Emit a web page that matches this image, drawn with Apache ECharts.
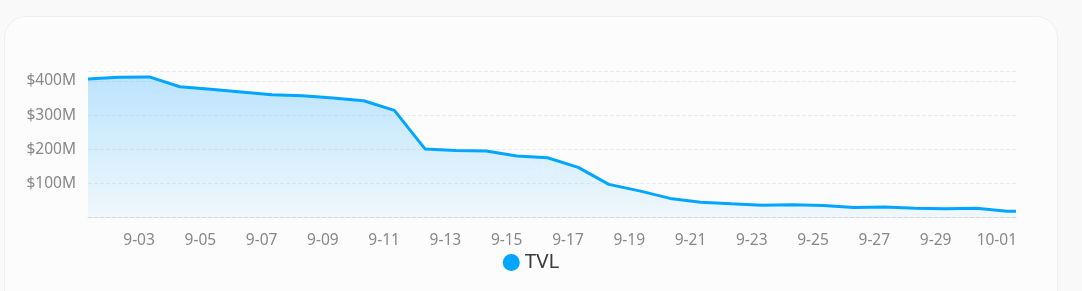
<!DOCTYPE html>
<html>
<head>
<meta charset="utf-8">
<script src="https://cdn.jsdelivr.net/npm/echarts@6/dist/echarts.min.js"></script>
<style>
  html, body { margin: 0; padding: 0; background: #f9f9f9; width: 1082px; height: 291px; overflow: hidden; }
  #card { position: absolute; left: 4px; top: 16px; width: 1054px; height: 300px; background: #fcfcfc; border: 1px solid #efefef; border-radius: 22px; box-sizing: border-box; }
  #chart { position: absolute; left: 4px; top: 16px; width: 1054px; height: 275px; }
</style>
</head>
<body>
<div id="card"></div>
<div id="chart"></div>
<script>
const dates = [
  '2023-09-01 08:00:00','2023-09-02 08:00:00','2023-09-03 08:00:00','2023-09-04 08:00:00',
  '2023-09-05 08:00:00','2023-09-06 08:00:00','2023-09-07 08:00:00','2023-09-08 08:00:00',
  '2023-09-09 08:00:00','2023-09-10 08:00:00','2023-09-11 08:00:00','2023-09-12 08:00:00',
  '2023-09-13 08:00:00','2023-09-14 08:00:00','2023-09-15 08:00:00','2023-09-16 08:00:00',
  '2023-09-17 08:00:00','2023-09-18 08:00:00','2023-09-19 08:00:00','2023-09-20 08:00:00',
  '2023-09-21 08:00:00','2023-09-22 08:00:00','2023-09-23 08:00:00','2023-09-24 08:00:00',
  '2023-09-25 08:00:00','2023-09-26 08:00:00','2023-09-27 08:00:00','2023-09-28 08:00:00',
  '2023-09-29 08:00:00','2023-09-30 08:00:00','2023-10-01 08:00:00','2023-10-01 15:00:00'
];
const tvlValues = [
  406e6, 411e6, 412e6, 383e6, 376e6, 368e6, 360e6, 357e6,
  350e6, 342e6, 314e6, 201e6, 196e6, 195e6, 180e6, 175e6,
  147e6, 97e6, 78e6, 56e6, 45e6, 40e6, 36e6, 37e6,
  35e6, 29e6, 31e6, 27e6, 26e6, 27e6, 18.5e6, 18e6
];
const seriesName = 'TVL';

const chart = echarts.init(document.getElementById('chart'), null, { renderer: 'canvas' });
const labelFont = 'Noto Sans';
chart.setOption({
  backgroundColor: 'transparent',
  animation: false,
  grid: { left: 84, right: 42, top: 55.7, bottom: 73.5, containLabel: false },
  legend: {
    data: [seriesName],
    left: 'center',
    top: 231,
    icon: 'circle',
    itemWidth: 17,
    itemHeight: 17,
    itemGap: 10,
    textStyle: { color: '#3c3c3c', fontSize: 20.5, fontFamily: labelFont }
  },
  graphic: [{
    type: 'text',
    left: 521,
    top: 137,
    silent: true,
    style: { text: 'Sui', fill: 'rgba(255,255,255,0.45)', fontSize: 26, fontFamily: labelFont }
  }],
  xAxis: {
    type: 'time',
    min: 'dataMin',
    max: 'dataMax',
    boundaryGap: false,
    splitNumber: 12,
    minInterval: 86400000,
    maxInterval: 3 * 86400000,
    axisLine: { show: true, lineStyle: { color: '#d9d9d9', type: 'dashed', width: 1 } },
    axisTick: { show: false },
    splitLine: { show: false },
    axisLabel: {
      formatter: '{M}-{dd}',
      color: '#888888',
      fontSize: 15.5,
      fontFamily: labelFont,
      margin: 15,
      showMinLabel: false,
      showMaxLabel: false,
      hideOverlap: true
    }
  },
  yAxis: {
    type: 'value',
    min: 0,
    max: function (v) { return v.max * 1.037; },
    interval: 1e8,
    axisLine: { show: false },
    axisTick: { show: false },
    splitLine: { show: true, lineStyle: { color: '#ececec', type: 'dashed', width: 1 } },
    axisLabel: {
      color: '#888888',
      fontSize: 15.5,
      fontFamily: labelFont,
      margin: 12,
      verticalAlign: 'middle',
      lineHeight: 16,
      padding: [8, 0, 0, 0],
      formatter: function (v) {
        if (v <= 0 || Math.abs(v % 1e8) > 1) return '';
        return '$' + Math.round(v / 1e6) + 'M';
      }
    }
  },
  series: [{
    name: seriesName,
    type: 'line',
    data: dates.map((d, i) => [d, tvlValues[i]]),
    symbol: 'none',
    itemStyle: { color: '#00a6ff' },
    lineStyle: { color: '#00a6ff', width: 3 },
    areaStyle: {
      color: new echarts.graphic.LinearGradient(0, 0, 0, 1, [
        { offset: 0, color: 'rgba(0,160,255,0.36)' },
        { offset: 1, color: 'rgba(0,160,255,0.07)' }
      ])
    }
  }]
});
</script>
</body>
</html>
